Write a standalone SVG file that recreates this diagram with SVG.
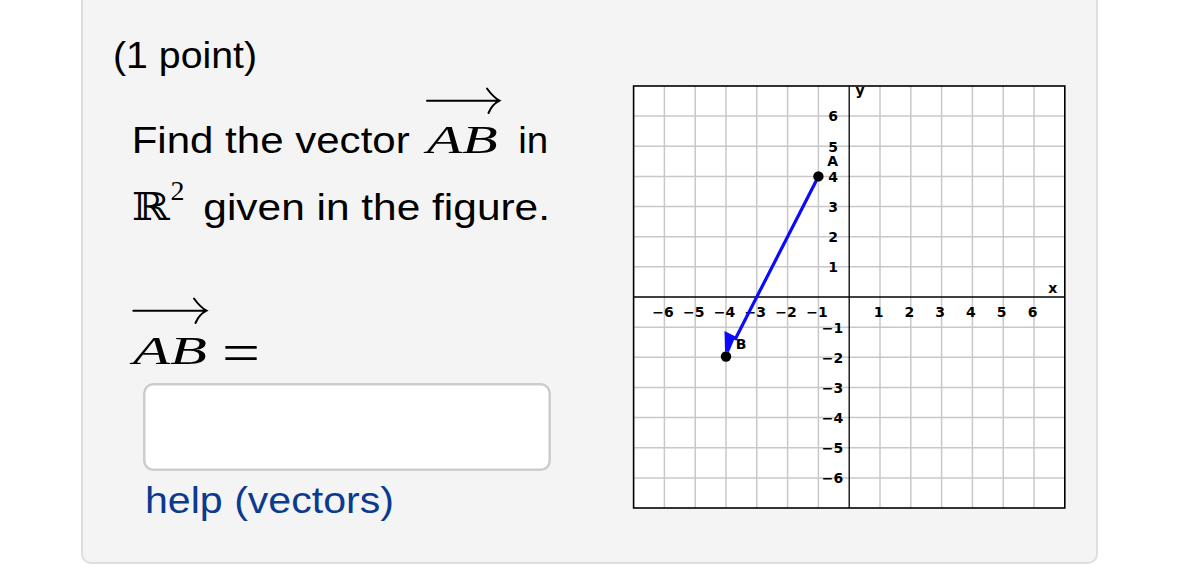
<svg xmlns="http://www.w3.org/2000/svg" width="1179" height="570" viewBox="0 0 1179 570">
<style>
.t{font-family:"Liberation Sans",Arial,sans-serif;fill:#000}
.m{font-family:"Liberation Serif","Times New Roman",serif;font-style:italic;fill:#000}
.grid line{stroke:#c8c8c8;stroke-width:1.5}
.lbl{font-family:"DejaVu Sans",sans-serif;font-weight:bold;font-size:14px;fill:#000;text-anchor:middle}
.vec{fill:none;stroke:#000;stroke-width:2;stroke-linecap:round}
</style>
<rect x="0" y="0" width="1179" height="570" fill="#ffffff"/>
<g id="panel">
<rect x="82" y="-20" width="1015" height="583" rx="9" fill="#f4f4f4" stroke="#dedede" stroke-width="2"/>
</g>
<g id="question">
<text class="t" x="113" y="68" font-size="36" textLength="144" lengthAdjust="spacingAndGlyphs">(1 point)</text>
<text class="t" x="131.7" y="152.7" font-size="37" textLength="278" lengthAdjust="spacingAndGlyphs">Find the vector</text>
<text class="m" x="426.7" y="152.7" font-size="41" textLength="71" lengthAdjust="spacingAndGlyphs">AB</text>
<path class="vec" d="M427 100.7 H498.5 M487 88.5 Q493 97 499.5 100.7 Q492 104.5 488.5 113"/>
<text class="t" x="518.3" y="152.7" font-size="37" textLength="30" lengthAdjust="spacingAndGlyphs">in</text>
<text x="131.7" y="220" font-family="DejaVu Serif,serif" font-size="38" textLength="38" lengthAdjust="spacingAndGlyphs">ℝ</text>
<text x="170.5" y="199.5" font-family="Liberation Serif,serif" font-size="28">2</text>
<text class="t" x="203.3" y="219.5" font-size="37" textLength="346.7" lengthAdjust="spacingAndGlyphs">given in the figure.</text>
</g>
<g id="answer">
<path class="vec" d="M133.3 310.7 H205.5 M194 298.5 Q200 307 206.5 310.7 Q199 314.5 195.5 323"/>
<text class="m" x="133" y="364" font-size="41" textLength="74" lengthAdjust="spacingAndGlyphs">AB</text>
<text x="222" y="372" font-family="Liberation Serif,serif" font-size="56" textLength="38" lengthAdjust="spacingAndGlyphs">=</text>
<rect x="144.3" y="384.3" width="405.4" height="85.4" rx="9" fill="#ffffff" stroke="#cccccc" stroke-width="2.5"/>
<text class="t" x="145" y="513" font-size="36" style="fill:#0b3a8f" textLength="249" lengthAdjust="spacingAndGlyphs">help (vectors)</text>
</g>
<g id="graph">
<rect x="633.6" y="86" width="431.2" height="422" fill="#ffffff"/>
<g class="grid">
<line x1="664.4" y1="86" x2="664.4" y2="508"/>
<line x1="695.2" y1="86" x2="695.2" y2="508"/>
<line x1="726" y1="86" x2="726" y2="508"/>
<line x1="756.8" y1="86" x2="756.8" y2="508"/>
<line x1="787.6" y1="86" x2="787.6" y2="508"/>
<line x1="818.4" y1="86" x2="818.4" y2="508"/>
<line x1="880" y1="86" x2="880" y2="508"/>
<line x1="910.8" y1="86" x2="910.8" y2="508"/>
<line x1="941.6" y1="86" x2="941.6" y2="508"/>
<line x1="972.4" y1="86" x2="972.4" y2="508"/>
<line x1="1003.2" y1="86" x2="1003.2" y2="508"/>
<line x1="1034" y1="86" x2="1034" y2="508"/>
<line x1="633.6" y1="116.1" x2="1064.8" y2="116.1"/>
<line x1="633.6" y1="146.25" x2="1064.8" y2="146.25"/>
<line x1="633.6" y1="176.4" x2="1064.8" y2="176.4"/>
<line x1="633.6" y1="206.55" x2="1064.8" y2="206.55"/>
<line x1="633.6" y1="236.7" x2="1064.8" y2="236.7"/>
<line x1="633.6" y1="266.85" x2="1064.8" y2="266.85"/>
<line x1="633.6" y1="327.15" x2="1064.8" y2="327.15"/>
<line x1="633.6" y1="357.3" x2="1064.8" y2="357.3"/>
<line x1="633.6" y1="387.45" x2="1064.8" y2="387.45"/>
<line x1="633.6" y1="417.6" x2="1064.8" y2="417.6"/>
<line x1="633.6" y1="447.75" x2="1064.8" y2="447.75"/>
<line x1="633.6" y1="477.9" x2="1064.8" y2="477.9"/>
</g>
<line x1="849.2" y1="86" x2="849.2" y2="508" stroke="#000" stroke-width="1.3"/>
<line x1="633.6" y1="297" x2="1064.8" y2="297" stroke="#000" stroke-width="1.3"/>
<rect x="633.6" y="86" width="431.2" height="422" fill="none" stroke="#000" stroke-width="1.6"/>
<g id="tick-labels">
<text class="lbl" x="662.9" y="317">−6</text>
<text class="lbl" x="693.7" y="317">−5</text>
<text class="lbl" x="724.5" y="317">−4</text>
<text class="lbl" x="755.3" y="317">−3</text>
<text class="lbl" x="786.1" y="317">−2</text>
<text class="lbl" x="816.9" y="317">−1</text>
<text class="lbl" x="878.5" y="317">1</text>
<text class="lbl" x="909.3" y="317">2</text>
<text class="lbl" x="940.1" y="317">3</text>
<text class="lbl" x="970.9" y="317">4</text>
<text class="lbl" x="1001.7" y="317">5</text>
<text class="lbl" x="1032.5" y="317">6</text>
<text class="lbl" x="833" y="121.3">6</text>
<text class="lbl" x="833" y="151.5">5</text>
<text class="lbl" x="833" y="181.6">4</text>
<text class="lbl" x="833" y="211.8">3</text>
<text class="lbl" x="833" y="241.9">2</text>
<text class="lbl" x="833" y="272">1</text>
<text class="lbl" x="832.5" y="333">−1</text>
<text class="lbl" x="832.5" y="363">−2</text>
<text class="lbl" x="832.5" y="393">−3</text>
<text class="lbl" x="832.5" y="423.2">−4</text>
<text class="lbl" x="832.5" y="453.3">−5</text>
<text class="lbl" x="832.5" y="483.4">−6</text>
<text class="lbl" x="860" y="95">y</text>
<text class="lbl" x="1052.7" y="293">x</text>
</g>
</g>
<g id="connectors">
<line x1="818.4" y1="176.4" x2="734.8" y2="340" stroke="#0a0aff" stroke-width="3.2"/>
<polygon points="724.5,331 735.5,336.5 729,352 725,351" fill="#0a0aff"/>
</g>
<g id="point-A">
<circle cx="818.4" cy="176.4" r="5.2" fill="#000"/>
<text class="lbl" x="832.7" y="166">A</text>
</g>
<g id="point-B">
<circle cx="726" cy="356.5" r="5.2" fill="#000"/>
<text class="lbl" x="741" y="348.5">B</text>
</g>
</svg>
